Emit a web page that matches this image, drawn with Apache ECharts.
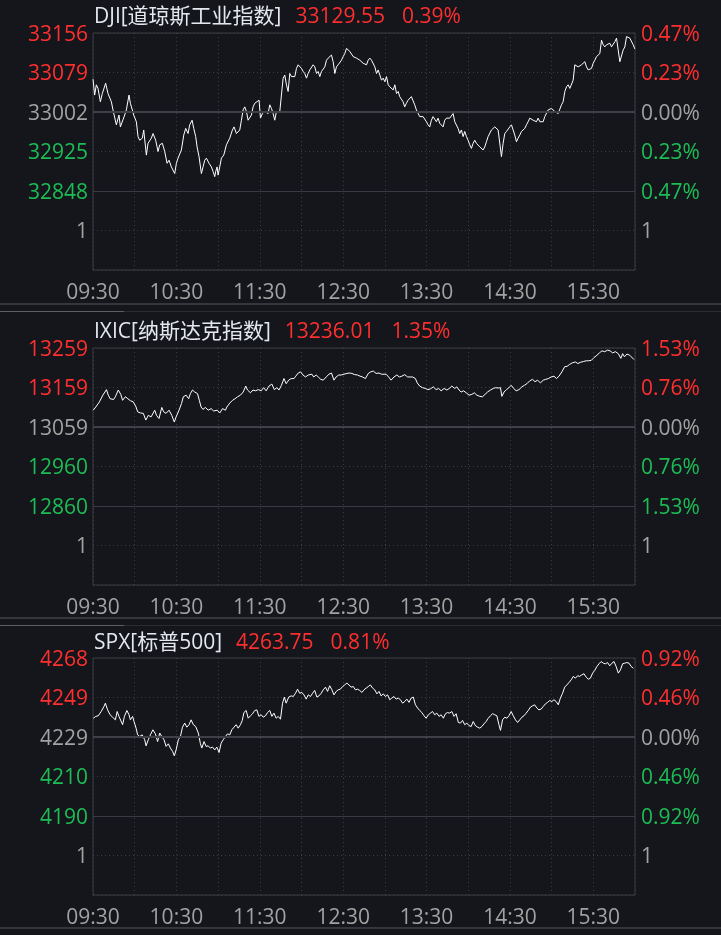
<!DOCTYPE html>
<html>
<head>
<meta charset="utf-8">
<title>美股指数分时</title>
<style>
  html, body { margin: 0; padding: 0; background: #14161b; }
  #chart { width: 721px; height: 935px; }
</style>
<script src="https://cdn.jsdelivr.net/npm/echarts@6/dist/echarts.min.js"></script>
</head>
<body>
<div id="chart"></div>
<script>
  // 分时轴: 09:30 起的分钟数, 共 390 分钟
  const sessionMinutes = 390
  const timeLabels = ['09:30', '10:30', '11:30', '12:30', '13:30', '14:30', '15:30']

  // 道琼斯
  const djiBase = 33002
  const djiStep = 77
  const djiLeftLabels = ['', '1', '32848', '32925', '33002', '33079', '33156']
  const djiRightLabels = ['', '1', '0.47%', '0.23%', '0.00%', '0.23%', '0.47%']
  const djiTimes = [
    0, 1.2, 2.4, 3.6, 5.3, 6.7, 9.1, 10.8, 13.2, 14.4,
    16.8, 18.7, 19.7, 21.1, 22.8, 24, 25.9, 26.9, 28.3, 29.3,
    31.2, 32.4, 33.6, 35.5, 36.5, 38.4, 39.6, 42, 43.2, 45.1,
    46.8, 48, 49.9, 51.6, 53.3, 54.7, 56.4, 58.8, 60, 61.2,
    62.4, 63.6, 65.3, 66.7, 68.4, 69.6, 71.3, 72.5, 73.9, 74.9,
    76.3, 78, 79.2, 80.4, 81.6, 83.5, 85.2, 86.4, 87.6, 88.3,
    89.3, 90, 91.2, 92.4, 94.1, 96, 98.4, 100.3, 101.5, 103.2,
    104.4, 105.6, 106.8, 108, 109.2, 110.4, 111.6, 112.8, 114, 115.2,
    116.4, 117.6, 119.5, 120.5, 121.9, 123.6, 124.8, 126, 127.2, 128.4,
    129.6, 130.8, 132, 133.2, 134.4, 135.6, 136.8, 138, 139.2, 140.4,
    141.6, 142.8, 144, 145.2, 146.4, 147.6, 148.8, 150, 151.2, 152.4,
    153.6, 154.8, 156, 157.2, 158.4, 159.6, 160.8, 162, 163.2, 164.4,
    165.6, 166.8, 168, 169.2, 170.4, 171.6, 172.8, 174, 175.2, 176.4,
    177.6, 178.8, 180, 181.2, 182.4, 183.6, 184.8, 186, 187.2, 188.4,
    189.6, 190.8, 192, 193.2, 194.4, 195.6, 196.8, 198, 199.2, 200.4,
    201.6, 202.8, 204, 205.2, 206.4, 207.6, 208.8, 210, 211.2, 212.4,
    213.6, 214.8, 216, 217.2, 218.4, 219.6, 220.7, 221.9, 223.1, 224.3,
    225.5, 226.7, 227.9, 229.1, 230.3, 231.5, 232.7, 233.9, 235.1, 237.5,
    238.7, 239.9, 241.1, 242.3, 243.5, 244.7, 245.9, 247.1, 248.3, 249.5,
    250.7, 251.9, 253.1, 254.3, 255.5, 256.7, 257.9, 259.1, 260.3, 261.5,
    262.7, 263.9, 265.1, 266.3, 267.5, 268.7, 269.9, 271.1, 272.3, 273.5,
    274.7, 275.9, 277.1, 278.3, 279.5, 280.7, 281.9, 283.1, 284.3, 285.5,
    286.7, 287.9, 289.1, 290.3, 291.5, 292.7, 293.9, 295.1, 296.3, 297.5,
    298.7, 299.9, 301.1, 302.3, 303.5, 304.7, 305.9, 307.1, 308.3, 309.5,
    310.7, 311.9, 313.1, 314.3, 315.5, 316.7, 317.9, 319.1, 320.3, 321.5,
    322.7, 323.9, 325.1, 326.3, 327.5, 328.7, 329.9, 331.1, 332.3, 333.5,
    334.7, 335.9, 337.1, 338.3, 339.5, 340.7, 341.9, 343.1, 344.3, 345.5,
    346.7, 347.9, 349.1, 350.3, 351.5, 352.7, 353.9, 355.1, 356.3, 357.5,
    358.7, 359.9, 361.1, 362.3, 363.5, 364.7, 365.9, 367.1, 368.3, 369.5,
    370.7, 371.9, 373.1, 374.3, 375.5, 376.7, 377.9, 379.1, 380.3, 381.5,
    382.7, 383.9, 385.1, 386.3, 387.5, 388.7, 389.9
  ]
  const djiValues = [
    33066, 33035, 33055, 33048, 33022, 33038, 33058, 33038, 33022, 33006,
    32977, 32996, 32973, 32973, 32996, 33006, 33035, 33019, 33006, 32996,
    32983, 32954, 32947, 32951, 32967, 32918, 32941, 32951, 32960, 32947,
    32925, 32938, 32941, 32925, 32902, 32908, 32895, 32882, 32902, 32912,
    32915, 32928, 32957, 32970, 32960, 32977, 32986, 32970, 32954, 32934,
    32915, 32882, 32895, 32908, 32912, 32902, 32895, 32886, 32876, 32886,
    32895, 32879, 32895, 32912, 32918, 32938, 32951, 32967, 32973, 32960,
    32957, 32967, 32986, 33006, 33012, 33003, 32986, 32983, 32996, 33012,
    33019, 33022, 33025, 32990, 32999, 33003, 33006, 32999, 33016, 33009,
    32999, 32986, 33003, 33006, 33003, 33006, 33068, 33074, 33055, 33042,
    33077, 33071, 33074, 33071, 33087, 33094, 33097, 33087, 33081, 33077,
    33068, 33077, 33084, 33081, 33094, 33090, 33077, 33081, 33071, 33081,
    33081, 33090, 33103, 33107, 33110, 33113, 33100, 33077, 33090, 33094,
    33097, 33103, 33110, 33116, 33126, 33129, 33120, 33123, 33110, 33113,
    33107, 33110, 33103, 33100, 33097, 33100, 33094, 33103, 33107, 33103,
    33100, 33090, 33077, 33084, 33074, 33064, 33068, 33061, 33071, 33055,
    33051, 33048, 33045, 33055, 33038, 33042, 33032, 33035, 33022, 33012,
    33019, 33025, 33022, 33032, 33035, 33016, 33006, 33003, 32993, 32993,
    32990, 32983, 32977, 32973, 32986, 32993, 32990, 32983, 32990, 32980,
    32983, 32973, 32986, 32990, 32993, 32990, 32993, 32999, 32983, 32980,
    32970, 32960, 32967, 32954, 32964, 32954, 32947, 32938, 32931, 32941,
    32947, 32941, 32938, 32934, 32931, 32928, 32934, 32944, 32954, 32957,
    32967, 32964, 32973, 32970, 32967, 32964, 32915, 32941, 32960, 32964,
    32967, 32973, 32977, 32967, 32957, 32944, 32951, 32957, 32964, 32967,
    32970, 32977, 32983, 32990, 32993, 32986, 32983, 32983, 32990, 32983,
    32980, 32983, 32993, 32996, 33006, 33003, 33009, 33006, 33003, 33003,
    32999, 32999, 33016, 33022, 33042, 33051, 33055, 33048, 33051, 33064,
    33094, 33097, 33090, 33090, 33094, 33097, 33100, 33090, 33084, 33081,
    33087, 33097, 33103, 33110, 33113, 33116, 33142, 33133, 33129, 33133,
    33133, 33136, 33129, 33126, 33139, 33146, 33123, 33100, 33097, 33123,
    33129, 33149, 33152, 33146, 33149, 33133, 33125
  ]

  // 纳斯达克
  const ixicBase = 13059.5
  const ixicStep = 99.9
  const ixicLeftLabels = ['', '1', '12860', '12960', '13059', '13159', '13259']
  const ixicRightLabels = ['', '1', '1.53%', '0.76%', '0.00%', '0.76%', '1.53%']
  const ixicTimes = [
    0.2, 2, 4.6, 7.1, 9.7, 11, 12.3, 14.8, 16.1, 18.2,
    20, 21.3, 23.3, 25.1, 26.9, 29, 31, 32.1, 34.1, 36.2,
    38, 39.8, 41.8, 44.4, 45.7, 47.5, 49.5, 50.8, 52.6, 54.7,
    56.7, 58.5, 59.8, 61.9, 63.7, 65, 67, 68.8, 70.1, 71.6,
    73.2, 75.2, 76.5, 77.8, 79.1, 80.9, 82.9, 85, 86.8, 89.4,
    91.2, 93.2, 95.3, 96.3, 98.4, 100.4, 102.2, 104, 106.1, 108.1,
    109.9, 111.2, 113.3, 115.1, 116.9, 118.9, 121, 122.8, 124.6, 126.6,
    128.7, 130.5, 132.3, 133.8, 135.6, 137.4, 139, 140.8, 142.6, 144.6,
    145.9, 147.7, 149.3, 151.1, 152.9, 154.9, 156.2, 157.5, 158.8, 160.6,
    162.1, 163.9, 165.7, 167.8, 169.8, 171.6, 173.4, 174.9, 176.8, 178.6,
    180.6, 182.7, 184.5, 186.3, 188.3, 190.4, 192.2, 194, 196, 198.1,
    199.9, 201.7, 203.7, 205.8, 207.6, 208.9, 210.9, 212.7, 214.5, 216.6,
    218.6, 220.4, 222.2, 224.3, 226.4, 228.2, 230, 232, 233.3, 235.1,
    237.1, 239.2, 241, 242.8, 244.9, 246.9, 248.7, 250.5, 252.6, 254.6,
    256.4, 258.2, 260.3, 261.8, 263.4, 264.9, 266.7, 268.5, 270.6, 272.6,
    274.4, 276.2, 278.3, 280.3, 282.1, 283.9, 286, 288, 289.8, 291.6,
    293.2, 294.2, 295.8, 297.5, 299.3, 300.9, 302.7, 304.5, 306.5, 308.6,
    310.4, 312.2, 314.2, 316.3, 318.1, 319.9, 321.9, 324, 325.8, 327.6,
    329.7, 331.7, 333.5, 335.3, 337.4, 339.4, 341.2, 343, 345.1, 347.1,
    348.9, 350.7, 352.8, 354.9, 356.7, 358.5, 360.5, 362.6, 364.4, 366.2,
    368.2, 370.3, 372.1, 373.9, 375.9, 378, 379.8, 381.1, 382.4, 384.2,
    386.2, 387.5, 389.3
  ]
  const ixicValues = [
    13102, 13110, 13123, 13140, 13154, 13140, 13131, 13129, 13136, 13153,
    13142, 13127, 13136, 13131, 13126, 13123, 13110, 13098, 13095, 13094,
    13077, 13089, 13085, 13102, 13089, 13081, 13109, 13098, 13094, 13102,
    13089, 13072, 13085, 13102, 13119, 13136, 13140, 13131, 13144, 13153,
    13148, 13144, 13127, 13110, 13104, 13109, 13102, 13106, 13100, 13102,
    13095, 13106, 13102, 13110, 13120, 13127, 13131, 13136, 13140, 13148,
    13163, 13153, 13146, 13153, 13151, 13154, 13151, 13159, 13151, 13163,
    13168, 13154, 13159, 13153, 13165, 13182, 13169, 13178, 13182, 13182,
    13188, 13196, 13199, 13191, 13186, 13191, 13188, 13193, 13186, 13191,
    13186, 13180, 13178, 13186, 13193, 13196, 13178, 13186, 13191, 13191,
    13193, 13195, 13196, 13195, 13192, 13191, 13188, 13186, 13182, 13195,
    13199, 13201, 13195, 13196, 13193, 13191, 13193, 13186, 13178, 13186,
    13191, 13186, 13188, 13192, 13186, 13186, 13186, 13182, 13171, 13163,
    13159, 13157, 13154, 13156, 13161, 13154, 13157, 13151, 13157, 13153,
    13157, 13163, 13157, 13161, 13153, 13148, 13151, 13146, 13140, 13142,
    13146, 13140, 13137, 13136, 13142, 13148, 13153, 13157, 13159, 13158,
    13159, 13137, 13148, 13154, 13159, 13165, 13157, 13151, 13154, 13161,
    13165, 13169, 13176, 13180, 13174, 13178, 13171, 13178, 13180, 13182,
    13186, 13188, 13182, 13188, 13199, 13212, 13213, 13218, 13222, 13224,
    13220, 13223, 13225, 13227, 13227, 13228, 13235, 13241, 13247, 13252,
    13250, 13254, 13252, 13247, 13250, 13245, 13233, 13245, 13237, 13244,
    13241, 13245, 13230
  ]

  // 标普500
  const spxBase = 4229.45
  const spxStep = 19.45
  const spxLeftLabels = ['', '1', '4190', '4210', '4229', '4249', '4268']
  const spxRightLabels = ['', '1', '0.92%', '0.46%', '0.00%', '0.46%', '0.92%']
  const spxTimes = [
    0.2, 2, 3.8, 5.9, 7.9, 8.9, 10.5, 12.3, 14.1, 16.1,
    17.4, 18.7, 20, 21.3, 22.6, 24.4, 25.9, 26.9, 28.5, 29.5,
    31, 32.1, 33.6, 35.4, 37.2, 38.2, 39.8, 41.3, 43.1, 44.9,
    46.5, 48, 49.5, 51.1, 52.6, 54.2, 55.7, 57.3, 58.5, 59.8,
    61.4, 62.9, 64.4, 66, 67.5, 69.1, 70.6, 72.2, 73.9, 75.8,
    77.3, 78.3, 79.9, 81.4, 82.9, 84.5, 86, 87.6, 89.1, 90.7,
    92.2, 93.7, 95.3, 96.8, 98.4, 99.9, 101.5, 103, 104.5, 106.1,
    107.4, 108.6, 110.2, 111.7, 113.3, 114.8, 116.4, 117.9, 119.4, 121,
    122.5, 124.1, 125.6, 127.2, 128.7, 130.2, 131.8, 133.3, 134.9, 136.4,
    137.7, 139, 140.8, 142.6, 144.1, 145.7, 147.2, 148.7, 150.3, 151.8,
    153.4, 154.9, 156.5, 158, 159.5, 161.1, 162.6, 164.2, 165.7, 167.3,
    168.8, 170.3, 171.9, 173.4, 175, 176.5, 178, 179.6, 181.1, 182.7,
    184.2, 185.7, 187.3, 188.8, 190.4, 191.9, 193.5, 195, 196.5, 198.1,
    199.6, 201.2, 202.7, 204.3, 205.8, 207.3, 208.9, 210.4, 212, 213.5,
    215, 216.6, 218.1, 219.7, 221.2, 222.8, 224.3, 225.8, 227.4, 228.9,
    230.5, 232, 233.6, 235.1, 236.6, 238.2, 239.7, 241.3, 242.8, 244.3,
    245.9, 247.4, 249, 250.5, 252.1, 253.6, 255.1, 256.7, 258.2, 259.8,
    261.3, 262.9, 264.4, 265.9, 267.5, 269, 270.6, 272.1, 273.6, 275.2,
    276.7, 278.3, 279.8, 281.3, 282.9, 284.4, 286, 287.5, 289.1, 290.6,
    292.1, 293.2, 294.7, 296.3, 297.8, 299.3, 300.9, 302.4, 304, 305.5,
    307.1, 308.6, 310.1, 311.7, 313.2, 314.8, 316.3, 317.8, 319.4, 320.9,
    322.5, 324, 325.6, 327.1, 328.6, 330.2, 331.7, 333.3, 334.8, 336.3,
    337.9, 339.4, 341, 342.5, 344.1, 345.6, 347.1, 348.7, 350.2, 351.8,
    353.3, 354.9, 356.4, 357.9, 359.5, 361, 362.6, 364.1, 365.6, 367.2,
    368.7, 370.3, 371.8, 373.4, 374.9, 376.4, 378, 379.5, 381.1, 382.6,
    384.1, 385.7, 387.2, 388.8
  ]
  const spxValues = [
    4238.7, 4239.6, 4239.9, 4242.0, 4244.5, 4246.1, 4242.8, 4240.4, 4239.2, 4237.9,
    4242.0, 4239.6, 4238.7, 4235.5, 4239.6, 4242.5, 4240.4, 4237.9, 4239.6, 4237.1,
    4233.8, 4230.5, 4229.7, 4230.5, 4228.1, 4225.1, 4228.1, 4230.5, 4233.0, 4231.0,
    4227.2, 4231.4, 4229.7, 4228.1, 4224.8, 4226.1, 4224.0, 4222.3, 4220.2, 4223.1,
    4228.1, 4229.7, 4234.3, 4236.3, 4234.3, 4235.5, 4237.9, 4235.5, 4234.6, 4231.4,
    4226.1, 4224.0, 4227.2, 4224.8, 4225.1, 4224.0, 4224.5, 4223.1, 4224.5, 4221.8,
    4226.4, 4228.1, 4229.7, 4231.0, 4230.5, 4233.0, 4234.3, 4235.5, 4233.8, 4235.5,
    4237.6, 4241.5, 4242.5, 4238.7, 4239.9, 4240.9, 4242.5, 4242.8, 4239.6, 4240.4,
    4239.2, 4239.9, 4241.5, 4242.5, 4239.6, 4241.2, 4238.7, 4239.6, 4238.2, 4246.1,
    4249.1, 4246.1, 4249.1, 4249.7, 4249.4, 4251.0, 4253.0, 4251.0, 4251.4, 4250.2,
    4248.1, 4250.2, 4249.4, 4251.0, 4252.4, 4249.1, 4249.7, 4251.0, 4252.7, 4254.0,
    4251.9, 4254.7, 4252.7, 4250.2, 4251.9, 4252.7, 4253.0, 4254.3, 4255.1, 4256.0,
    4255.1, 4254.0, 4254.3, 4252.7, 4253.0, 4252.4, 4251.4, 4252.7, 4253.5, 4254.3,
    4255.1, 4253.5, 4252.7, 4250.7, 4251.9, 4249.7, 4250.7, 4249.4, 4250.2, 4247.8,
    4248.6, 4249.4, 4248.1, 4248.6, 4247.8, 4246.1, 4246.9, 4248.1, 4246.5, 4248.6,
    4249.1, 4245.3, 4243.7, 4242.5, 4241.5, 4239.9, 4238.7, 4240.4, 4241.2, 4242.0,
    4240.4, 4241.2, 4239.6, 4240.4, 4238.7, 4240.9, 4241.5, 4241.2, 4242.0, 4239.6,
    4240.9, 4236.6, 4236.3, 4237.6, 4235.5, 4236.3, 4235.0, 4234.6, 4237.1, 4235.0,
    4234.3, 4233.8, 4234.6, 4235.9, 4237.1, 4238.7, 4239.9, 4240.9, 4240.4, 4239.9,
    4235.5, 4232.7, 4237.9, 4239.2, 4238.7, 4239.9, 4242.0, 4239.9, 4237.9, 4236.6,
    4237.9, 4239.2, 4239.9, 4241.2, 4242.5, 4244.2, 4244.8, 4245.3, 4243.7, 4242.8,
    4243.2, 4244.5, 4245.8, 4246.5, 4247.4, 4246.9, 4247.8, 4246.9, 4245.3, 4248.6,
    4251.0, 4254.0, 4255.1, 4256.3, 4257.6, 4259.3, 4258.4, 4259.6, 4259.3, 4260.1,
    4260.6, 4258.9, 4257.9, 4258.4, 4260.9, 4262.2, 4264.2, 4265.5, 4266.6, 4265.8,
    4265.5, 4266.1, 4264.5, 4265.8, 4266.6, 4264.2, 4260.9, 4262.5, 4265.5, 4265.8,
    4266.1, 4265.8, 4264.2, 4263.3
  ]

  const panels = [
    { name: 'DJI[道琼斯工业指数]', last: '33129.55', pct: '0.39%', times: djiTimes, values: djiValues, base: djiBase, step: djiStep, leftLabels: djiLeftLabels, rightLabels: djiRightLabels },
    { name: 'IXIC[纳斯达克指数]', last: '13236.01', pct: '1.35%', times: ixicTimes, values: ixicValues, base: ixicBase, step: ixicStep, leftLabels: ixicLeftLabels, rightLabels: ixicRightLabels },
    { name: 'SPX[标普500]', last: '4263.75', pct: '0.81%', times: spxTimes, values: spxValues, base: spxBase, step: spxStep, leftLabels: spxLeftLabels, rightLabels: spxRightLabels }
  ]

  const FONT = "'Open Sans', 'Noto Sans CJK SC', sans-serif"
  const FS = 21
  const RED = '#ff2f2f'
  const GREEN = '#1dbd55'
  const GRAY = '#a2a2a2'
  const GRID_LINE = '#3a3d43'
  const gridTops = [33, 348, 658]
  const titleTops = [7, 322, 633]
  const separatorTops = [303, 617, 927]

  const labelRich = {
    r: { color: RED, fontSize: FS, fontFamily: FONT, padding: [4, 0, 0, 0] },
    g: { color: GREEN, fontSize: FS, fontFamily: FONT, padding: [4, 0, 0, 0] },
    n: { color: GRAY, fontSize: FS, fontFamily: FONT, padding: [4, 0, 0, 0] }
  }

  // 按刻度位置取标签, 涨红跌绿, 昨收和成交量刻度为灰
  function makeFormatter(labels) {
    return function (v) {
      const i = Math.round(v) + 4
      const s = labels[i]
      if (!s) return ''
      const cls = i > 4 ? 'r' : (i === 4 || i === 1) ? 'n' : 'g'
      return '{' + cls + '|' + s + '}'
    }
  }

  const option = {
    backgroundColor: '#14161b',
    animation: false,
    textStyle: { fontFamily: FONT },
    title: [],
    grid: [],
    xAxis: [],
    yAxis: [],
    series: [],
    graphic: []
  }

  panels.forEach((p, k) => {
    option.title.push({
      left: 94,
      top: titleTops[k],
      padding: 0,
      text: '{n|' + p.name + '}{p1|' + p.last + '}{p2|' + p.pct + '}',
      textStyle: {
        fontWeight: 'normal',
        rich: {
          n: { color: '#e4e8ee', fontSize: FS, fontFamily: FONT, fontWeight: 'normal' },
          p1: { color: RED, fontSize: FS, fontFamily: FONT, fontWeight: 'normal', padding: [0, 0, 0, 14] },
          p2: { color: RED, fontSize: FS, fontFamily: FONT, fontWeight: 'normal', padding: [0, 0, 0, 17] }
        }
      }
    })

    option.grid.push({
      left: 93,
      right: 86,
      top: gridTops[k],
      height: 237,
      show: true,
      borderColor: GRID_LINE,
      borderWidth: 1,
      backgroundColor: 'transparent'
    })

    option.xAxis.push({
      type: 'value',
      gridIndex: k,
      min: 0,
      max: sessionMinutes,
      interval: 30,
      axisLine: { show: false },
      axisTick: { show: false },
      axisLabel: {
        color: GRAY,
        fontSize: FS,
        fontFamily: FONT,
        margin: 13,
        formatter: v => (v % 60 === 0 && v < sessionMinutes) ? timeLabels[v / 60] : ''
      },
      splitLine: { show: true, lineStyle: { color: GRID_LINE, type: [1, 3], width: 1 } }
    })

    const yBase = {
      type: 'value',
      gridIndex: k,
      min: -4,
      max: 2,
      interval: 1,
      axisLine: { show: false },
      axisTick: { show: false }
    }
    option.yAxis.push(Object.assign({}, yBase, {
      position: 'left',
      axisLabel: { margin: 5, formatter: makeFormatter(p.leftLabels), rich: labelRich },
      splitLine: { show: true, lineStyle: { color: GRID_LINE, type: [1, 3], width: 1 } }
    }))
    option.yAxis.push(Object.assign({}, yBase, {
      position: 'right',
      axisLabel: { margin: 6, formatter: makeFormatter(p.rightLabels), rich: labelRich },
      splitLine: { show: false }
    }))

    option.series.push({
      type: 'line',
      xAxisIndex: k,
      yAxisIndex: k * 2,
      showSymbol: false,
      symbol: 'none',
      lineStyle: { color: '#ffffff', width: 1 },
      data: p.times.map((t, i) => [t, (p.values[i] - p.base) / p.step]),
      markLine: {
        silent: true,
        symbol: 'none',
        label: { show: false },
        data: [
          { yAxis: 0, lineStyle: { color: '#3e4147', width: 2, type: 'solid' } },
          { yAxis: -2, lineStyle: { color: '#383b41', width: 1, type: 'solid' } }
        ]
      },
      z: 3
    })

    // 分隔栏
    const sy = separatorTops[k]
    option.graphic.push(
      { type: 'rect', shape: { x: 0, y: sy, width: 721, height: 2 }, style: { fill: '#34363b' }, silent: true },
      { type: 'rect', shape: { x: 0, y: sy + 8, width: 124, height: 1 }, style: { fill: '#5c5e63' }, silent: true },
      { type: 'rect', shape: { x: 124, y: sy + 8, width: 597, height: 1 }, style: { fill: '#2a2c31' }, silent: true }
    )
  })

  const chart = echarts.init(document.getElementById('chart'))
  chart.setOption(option)
</script>
</body>
</html>
